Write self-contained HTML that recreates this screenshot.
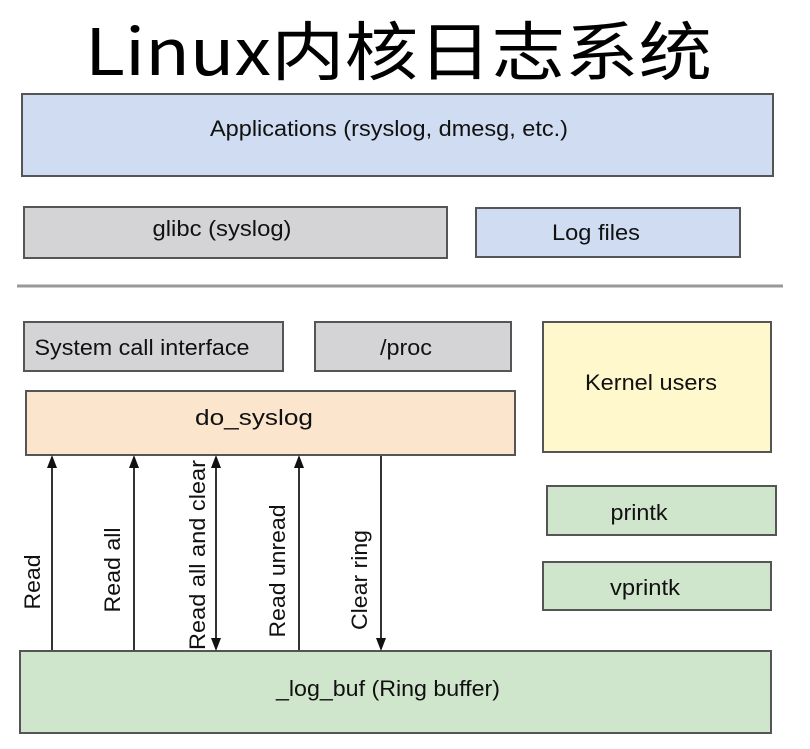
<!DOCTYPE html>
<html><head><meta charset="utf-8"><style>
html,body{margin:0;padding:0;background:#fff;width:810px;height:749px;overflow:hidden}
svg{display:block}
text{font-family:"Liberation Sans",Arial,sans-serif;font-size:22px;fill:#111}
</style></head><body>
<svg width="810" height="749" viewBox="0 0 810 749" xmlns="http://www.w3.org/2000/svg">
<text x="85" y="75" textLength="627" lengthAdjust="spacingAndGlyphs" style="font-family:'WenQuanYi Zen Hei','Noto Sans CJK SC',sans-serif;font-size:64px;fill:#000">Linux内核日志系统</text>
<g stroke="#555" stroke-width="2">
<rect x="22" y="94" width="751" height="82" fill="#cfdcf1"/>
<rect x="24" y="207" width="423" height="51" fill="#d4d4d6"/>
<rect x="476" y="208" width="264" height="49" fill="#cfdcf1"/>
<rect x="24" y="322" width="259" height="49" fill="#d4d4d6"/>
<rect x="315" y="322" width="196" height="49" fill="#d4d4d6"/>
<rect x="543" y="322" width="228" height="130" fill="#fff8cc"/>
<rect x="26" y="391" width="489" height="64" fill="#fce5cd"/>
<rect x="547" y="486" width="229" height="49" fill="#d0e6cc"/>
<rect x="543" y="562" width="228" height="48" fill="#d0e6cc"/>
<rect x="20" y="651" width="751" height="82" fill="#d0e6cc"/>
</g>
<line x1="17" y1="286" x2="783" y2="286" stroke="#999" stroke-width="3"/>
<g stroke="#333" stroke-width="2">
<line x1="52" y1="650" x2="52" y2="465"/>
<line x1="134" y1="650" x2="134" y2="465"/>
<line x1="216" y1="640" x2="216" y2="465"/>
<line x1="299" y1="650" x2="299" y2="465"/>
<line x1="381" y1="456" x2="381" y2="640"/>
</g>
<g fill="#111">
<polygon points="52,455 47,468 57,468"/>
<polygon points="134,455 129,468 139,468"/>
<polygon points="216,455 211,468 221,468"/>
<polygon points="216,651 211,638 221,638"/>
<polygon points="299,455 294,468 304,468"/>
<polygon points="381,651 376,638 386,638"/>
</g>
<g text-anchor="middle">
<text x="389" y="136" textLength="358" lengthAdjust="spacingAndGlyphs">Applications (rsyslog, dmesg, etc.)</text>
<text x="222" y="236" textLength="139" lengthAdjust="spacingAndGlyphs">glibc (syslog)</text>
<text x="596" y="240" textLength="88" lengthAdjust="spacingAndGlyphs">Log files</text>
<text x="142" y="355" textLength="215" lengthAdjust="spacingAndGlyphs">System call interface</text>
<text x="406" y="355" textLength="52" lengthAdjust="spacingAndGlyphs">/proc</text>
<text x="651" y="390" textLength="132" lengthAdjust="spacingAndGlyphs">Kernel users</text>
<text x="254" y="425" textLength="118" lengthAdjust="spacingAndGlyphs">do_syslog</text>
<text x="639" y="520" textLength="57" lengthAdjust="spacingAndGlyphs">printk</text>
<text x="645" y="595" textLength="70" lengthAdjust="spacingAndGlyphs">vprintk</text>
<text x="388" y="696" textLength="224" lengthAdjust="spacingAndGlyphs">_log_buf (Ring buffer)</text>
<text transform="translate(40,582) rotate(-90)" textLength="55" lengthAdjust="spacingAndGlyphs">Read</text>
<text transform="translate(120,570) rotate(-90)" textLength="85" lengthAdjust="spacingAndGlyphs">Read all</text>
<text transform="translate(205,555) rotate(-90)" textLength="190" lengthAdjust="spacingAndGlyphs">Read all and clear</text>
<text transform="translate(285,571) rotate(-90)" textLength="133" lengthAdjust="spacingAndGlyphs">Read unread</text>
<text transform="translate(367,580) rotate(-90)" textLength="100" lengthAdjust="spacingAndGlyphs">Clear ring</text>
</g>
</svg>
</body></html>
